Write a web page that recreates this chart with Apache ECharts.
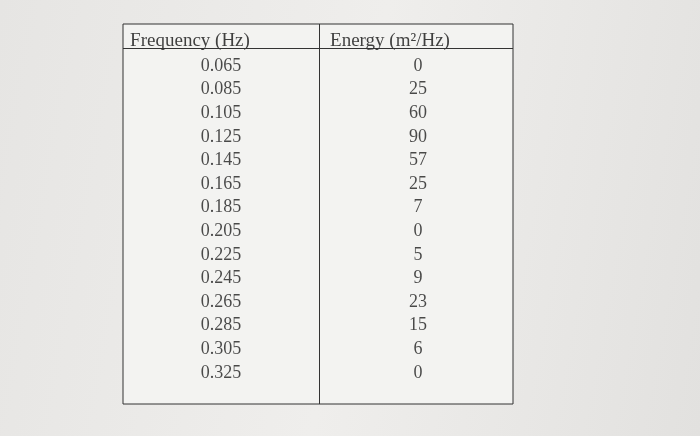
<!DOCTYPE html>
<html>
<head>
<meta charset="utf-8">
<script src="https://cdn.jsdelivr.net/npm/echarts@6/dist/echarts.min.js"></script>
<style>
  html, body { margin: 0; padding: 0; }
  #main { width: 700px; height: 436px; background: linear-gradient(100deg, #e6e5e3 0%, #efeeec 50%, #e2e1df 100%); }
</style>
</head>
<body>
<div id="main"></div>
<script>
const headers = ['Frequency (Hz)', 'Energy (m\u00b2/Hz)'];
const frequency = ['0.065', '0.085', '0.105', '0.125', '0.145', '0.165', '0.185',
  '0.205', '0.225', '0.245', '0.265', '0.285', '0.305', '0.325'];
const energy = [0, 25, 60, 90, 57, 25, 7, 0, 5, 9, 23, 15, 6, 0];

let chart = echarts.init(document.getElementById('main'));
const textStyle = { fontFamily: 'Liberation Serif', fontSize: 18, color: '#1e1e1e' };
const lineStyle = { color: '#333', width: 1, type: 'solid' };

let option = {
  animation: false,
  grid: {
    left: 123, right: 187, top: 24, bottom: 32,
    show: true, backgroundColor: '#f3f3f1', borderColor: '#333', borderWidth: 1
  },
  xAxis: { type: 'value', min: 0, max: 390, show: false },
  yAxis: { type: 'value', min: -1.78, max: 14.32, inverse: true, show: false },
  series: [
    {
      type: 'scatter', symbolSize: 0,
      data: headers.map((h, i) => ({ value: [i === 0 ? 67 : 267, -1.06], name: h })),
      label: { show: true, position: 'inside', formatter: p => p.name, ...textStyle, fontSize: 19, color: '#111' },
      markLine: {
        silent: true, symbol: 'none', label: { show: false }, lineStyle: lineStyle,
        data: [
          [{ coord: [0, -0.76] }, { coord: [390, -0.76] }],
          [{ coord: [196, -1.78] }, { coord: [196, 14.32] }]
        ]
      }
    },
    {
      type: 'scatter', symbolSize: 0,
      data: frequency.map((f, i) => ({ value: [98, i], name: f })),
      label: { show: true, position: 'inside', formatter: p => p.name, ...textStyle }
    },
    {
      type: 'scatter', symbolSize: 0,
      data: energy.map((e, i) => ({ value: [295, i], name: String(e) })),
      label: { show: true, position: 'inside', formatter: p => p.name, ...textStyle }
    }
  ]
};
chart.setOption(option);
</script>
</body>
</html>
